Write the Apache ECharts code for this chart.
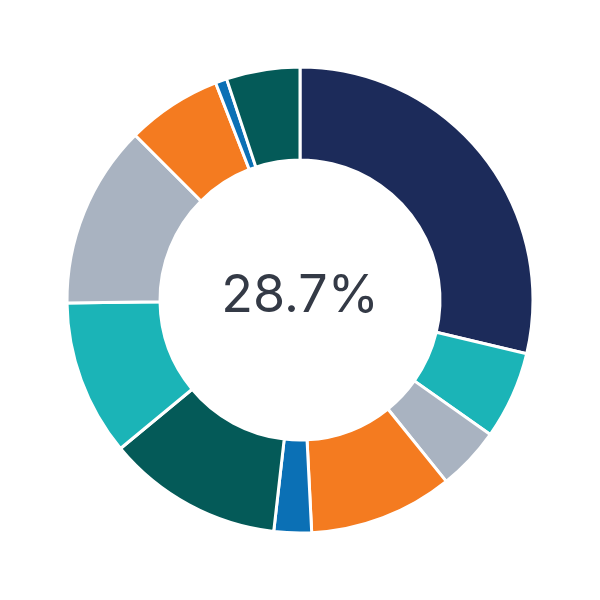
<!DOCTYPE html>
<html><head><meta charset="utf-8">
<script src="https://cdn.jsdelivr.net/npm/echarts@6/dist/echarts.min.js"></script>
<style>html,body{margin:0;padding:0;background:#fff}#c{width:600px;height:600px}</style>
</head><body><div id="c"></div>
<script>
const categories = ['A','B','C','D','E','F','G','H','I','J','K'];
const values = [28.7, 6.1, 4.4, 10.0, 2.6, 12.2, 10.8, 12.7, 6.6, 0.8, 5.1];
const colors = ['#1c2b5a','#1bb4b7','#a9b3c1','#f47b20','#0b70b5','#045a58','#1bb4b7','#a9b3c1','#f47b20','#0b70b5','#045a58'];
const centerLabel = '28.7%';
const chart = echarts.init(document.getElementById('c'));
chart.setOption({
  animation:false,
  graphic:[{type:'text',x:300,y:296,style:{text:centerLabel,font:'normal 52px Inter',fill:'#343a46',align:'center',verticalAlign:'middle'}}],
  series:[{type:'pie',center:[300,300],radius:[140,233],startAngle:90,clockwise:true,
    label:{show:false},labelLine:{show:false},
    itemStyle:{borderColor:'#fff',borderWidth:3},
    data:categories.map((c,i)=>({name:c,value:values[i],itemStyle:{color:colors[i]}}))}]
});
</script></body></html>
